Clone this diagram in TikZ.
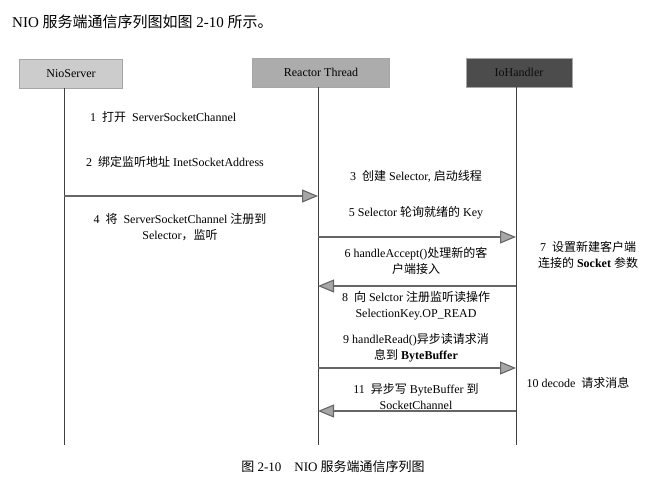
\documentclass[tikz,border=0pt]{standalone}
\usepackage{fontspec}
\setmainfont{Liberation Serif}
\newfontfamily\cjk{Noto Sans CJK SC}
\newcommand{\zh}[1]{{\cjk #1}}
\usetikzlibrary{arrows.meta}
\begin{document}
\begin{tikzpicture}[x=1pt,y=-1pt,
  actor/.style={draw=gray!70,line width=1pt,minimum height=29pt,font=\fontsize{12}{14}\selectfont},
  life/.style={draw=black!75,line width=1pt},
  msg/.style={draw=gray!80!black,line width=1.1pt,-{Triangle[length=16pt,width=13pt,fill=gray!70]}},
  lbl/.style={font=\fontsize{12}{16}\selectfont,align=center,inner sep=0pt}]
\useasboundingbox (0,0) rectangle (666,482);
\node[anchor=west,inner sep=0pt,font=\fontsize{15}{17}\selectfont] (title) at (12,22) {NIO \zh{服务端通信序列图如图} 2-10 \zh{所示。}};
\node[actor,fill=gray!40,minimum width=103pt] (ns) at (71,74) {NioServer};
\node[actor,fill=gray!65,minimum width=137pt] (rt) at (321,72.5) {Reactor Thread};
\node[actor,fill=black!70,minimum width=106pt,text=black!95] (io) at (519,72.5) {IoHandler};
\coordinate (nsE) at (64,445);
\coordinate (rtE) at (318,445);
\coordinate (ioE) at (516,445);
\draw[life] (64,88) -- (nsE);
\draw[life] (318,87) -- (rtE);
\draw[life] (516,87) -- (ioE);
\coordinate (a1) at (64,196); \coordinate (b1) at (318,196);
\coordinate (a2) at (318,237); \coordinate (b2) at (516,237);
\coordinate (a3) at (516,286); \coordinate (b3) at (318,286);
\coordinate (a4) at (318,368); \coordinate (b4) at (516,368);
\coordinate (a5) at (516,411); \coordinate (b5) at (318,411);
\draw[msg] (a1) -- (b1);
\draw[msg] (a2) -- (b2);
\draw[msg] (a3) -- (b3);
\draw[msg] (a4) -- (b4);
\draw[msg] (a5) -- (b5);
\node[lbl,anchor=west] (l1) at (90,117) {1\ \ \zh{打开}\ \ ServerSocketChannel};
\node[lbl,anchor=west] (l2) at (86,162) {2\ \ \zh{绑定监听地址} InetSocketAddress};
\node[lbl] (l3) at (416,176) {3\ \ \zh{创建} Selector, \zh{启动线程}};
\node[lbl] (l4) at (180,227) {4\ \ \zh{将}\ \ ServerSocketChannel \zh{注册到}\\Selector\zh{，监听}};
\node[lbl] (l5) at (416,213) {5 Selector \zh{轮询就绪的} Key};
\node[lbl] (l6) at (416,261) {6 handleAccept()\zh{处理新的客}\\\zh{户端接入}};
\node[lbl] (l7) at (588,255) {7\ \ \zh{设置新建客户端}\\\zh{连接的} \textbf{Socket} \zh{参数}};
\node[lbl] (l8) at (416,306) {8\ \ \zh{向} Selctor \zh{注册监听读操作}\\SelectionKey.OP\_READ};
\node[lbl] (l9) at (416,348) {9 handleRead()\zh{异步读请求消}\\\zh{息到} \textbf{ByteBuffer}};
\node[lbl] (l10) at (578,383) {10 decode\ \ \zh{请求消息}};
\node[lbl] (l11) at (416,397) {11\ \ \zh{异步写} ByteBuffer \zh{到}\\SocketChannel};
\node[lbl,font=\fontsize{13}{15}\selectfont] (cap) at (333,467) {\zh{图} 2-10\ \ \ \ NIO \zh{服务端通信序列图}};
\end{tikzpicture}
\end{document}
